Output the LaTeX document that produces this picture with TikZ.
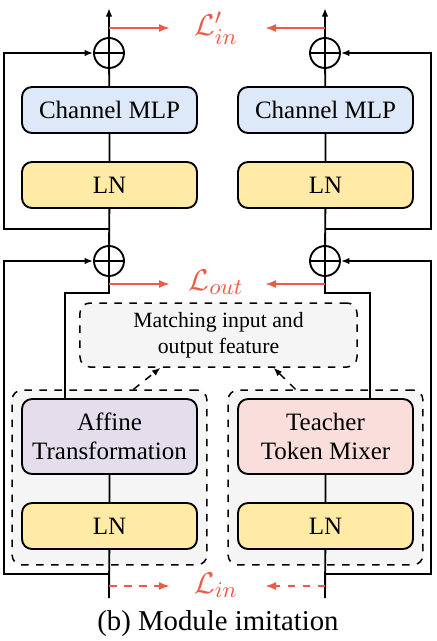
\documentclass[tikz,border=0pt]{standalone}
\usepackage{amsmath}
\usepackage{fontspec}
\setmainfont{Liberation Serif}
\usepackage{tikz}
\usetikzlibrary{shapes,arrows,arrows.meta,backgrounds,positioning,calc,fit}

\definecolor{mlpblue}{HTML}{DDE8F8}
\definecolor{lnyellow}{HTML}{FFEBA6}
\definecolor{affpurple}{HTML}{E4DDEB}
\definecolor{teapink}{HTML}{FADEDB}
\definecolor{grpgray}{HTML}{F5F5F5}
\definecolor{lossred}{HTML}{EE5A48}

\tikzset{
  blk/.style={draw, line width=0.75pt, rounded corners=4pt, minimum width=70pt, minimum height=18.4pt, inner sep=0pt, align=center, font=\fontsize{10}{11.5}\selectfont},
  mlp/.style={blk, fill=mlpblue},
  lnbox/.style={blk, fill=lnyellow},
  mixer/.style={blk, minimum height=30pt},
  addnode/.style={draw, circle, line width=0.75pt, minimum size=12pt, inner sep=0pt,
    path picture={\draw[line width=0.75pt] (path picture bounding box.north) -- (path picture bounding box.south)
      (path picture bounding box.west) -- (path picture bounding box.east);}},
  grp/.style={draw, dashed, line width=0.6pt, rounded corners=4pt, fill=grpgray, inner sep=3.6pt},
  wire/.style={line width=0.75pt},
  tip/.style={-{Latex[length=3.4pt,width=2.6pt]}},
  loss/.style={line width=0.75pt, draw=lossred, -{Latex[length=4.4pt,width=3.2pt]}},
  losstxt/.style={text=lossred, font=\fontsize{13}{14}\selectfont}
}

\begin{document}
\begin{tikzpicture}[x=0.4pt, y=-0.4pt]
      \useasboundingbox (0,0) rectangle (437,641);

      % student side
      \coordinate (inL) at (109,598);
      \coordinate (outL) at (109,8);
      \node[lnbox] (lnL2) at (109.5,526) {LN};
      \node[mixer, fill=affpurple] (affine) at (109.5,436.5) {Affine\\Transformation};
      \node[addnode] (addL1) at (109,261) {};
      \node[lnbox] (lnL1) at (109.5,185) {LN};
      \node[mlp] (mlpL) at (109.5,110) {Channel MLP};
      \node[addnode] (addL2) at (109,53) {};

      % teacher side
      \coordinate (inR) at (325,598);
      \coordinate (outR) at (325,8);
      \node[lnbox] (lnR2) at (325.5,526) {LN};
      \node[mixer, fill=teapink] (teacher) at (325.5,436.5) {Teacher\\Token Mixer};
      \node[addnode] (addR1) at (325,261) {};
      \node[lnbox] (lnR1) at (325.5,185) {LN};
      \node[mlp] (mlpR) at (325.5,110) {Channel MLP};
      \node[addnode] (addR2) at (325,53) {};

      \node[draw, dashed, line width=0.6pt, rounded corners=4pt, fill=grpgray, minimum width=110.8pt, minimum height=25.6pt, align=center, font=\fontsize{8.7}{10.4}\selectfont] (match) at (218.5,335) {Matching input and\\output feature};

      \begin{scope}[on background layer]
        \node[grp, fit=(affine)(lnL2), inner ysep=4.6pt, yshift=-1.4pt] (grpL) {};
        \node[grp, fit=(teacher)(lnR2), inner ysep=4.6pt, yshift=-1.4pt] (grpR) {};
      \end{scope}

      % main paths
      \coordinate (tapL) at (65,293);
      \coordinate (tapR) at (370,293);
      \draw[wire] (inL) -- (lnL2) -- (affine);
      \draw[wire] (tapL |- affine.north) -- (tapL) -| (addL1.south);
      \draw[wire] (addL1) -- (lnL1) -- (mlpL) -- (addL2);
      \draw[wire, tip] (addL2) -- (outL);
      \draw[wire] (inR) -- (lnR2) -- (teacher);
      \draw[wire] (tapR |- teacher.north) -- (tapR) -| (addR1.south);
      \draw[wire] (addR1) -- (lnR1) -- (mlpR) -- (addR2);
      \draw[wire, tip] (addR2) -- (outR);

      % skip connections
      \coordinate (skL1) at (4,574);
      \coordinate (skL2) at (4,229);
      \coordinate (skR1) at (431,574);
      \coordinate (skR2) at (431,229);
      \draw[wire, tip] (inL |- skL1) -- (skL1) |- (addL1.west);
      \draw[wire, tip] (inL |- skL2) -- (skL2) |- (addL2.west);
      \draw[wire, tip] (inR |- skR1) -- (skR1) |- (addR1.east);
      \draw[wire, tip] (inR |- skR2) -- (skR2) |- (addR2.east);

      % matching
      \draw[line width=0.6pt, dashed, tip] ($(grpL.north)+(24,0)$) -- ($(match.south)+(-58,0)$);
      \draw[line width=0.6pt, dashed, tip] ($(grpR.north)+(-30,0)$) -- ($(match.south)+(55,0)$);

      % losses
      \node[losstxt] (lossA) at (216,28) {$\mathcal{L}'_{in}$};
      \node[losstxt] (lossB) at (216,282) {$\mathcal{L}_{out}$};
      \node[losstxt] (lossC) at (216,585) {$\mathcal{L}_{in}$};
      \draw[loss] (outL |- 0,28) -- ++(61,0);
      \draw[loss] (outR |- 0,28) -- ++(-60,0);
      \draw[loss] (outL |- 0,284) -- ++(61,0);
      \draw[loss] (outR |- 0,284) -- ++(-60,0);
      \draw[loss, dashed] (inL |- 0,586) -- ++(61,0);
      \draw[loss, dashed] (inR |- 0,586) -- ++(-60,0);

      \node[font=\fontsize{11.5}{13}\selectfont] (cap) at (218,624) {(b) Module imitation};
\end{tikzpicture}
\end{document}
